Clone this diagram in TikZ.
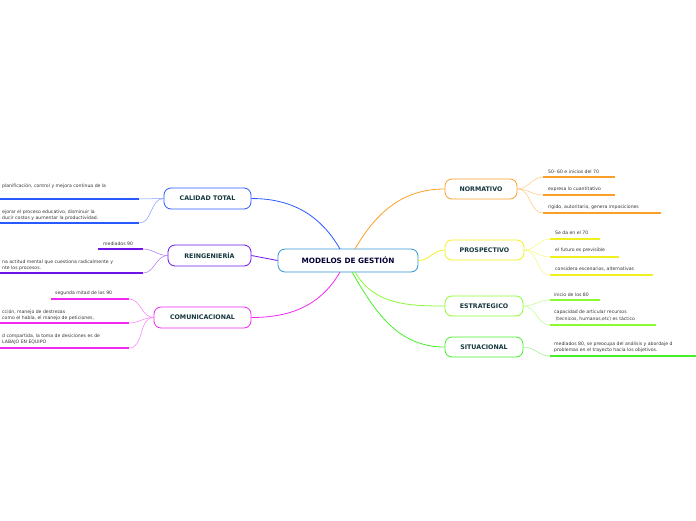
\documentclass[tikz,border=0pt]{standalone}
\usepackage{fontspec}
\setmainfont{DejaVu Sans}
\begin{document}
\begin{tikzpicture}[x=1pt,y=-1pt,
 box/.style={draw=#1,line width=0.8pt,rounded corners=7pt,fill=white,font=\fontsize{6.3}{7}\selectfont\bfseries,text=tealdark,inner sep=0pt},
 lt/.style={font=\fontsize{4.6}{6.4}\selectfont,text=black!80,align=left,inner sep=0pt},
 ul/.style={draw=#1,line width=1.1pt},
 cn/.style={draw=#1,line width=0.5pt}]
\definecolor{tealdark}{RGB}{20,55,60}
\definecolor{cblue}{RGB}{40,90,255}
\definecolor{cpur}{RGB}{110,20,235}
\definecolor{cmag}{RGB}{240,40,240}
\definecolor{cora}{RGB}{250,160,40}
\definecolor{cyel}{RGB}{240,240,30}
\definecolor{clg}{RGB}{140,250,50}
\definecolor{cgr}{RGB}{70,240,40}
\definecolor{ccen}{RGB}{50,150,210}
\useasboundingbox (0,0) rectangle (696,520);
\node[box=ccen,minimum width=140pt,minimum height=23pt,font=\fontsize{7.3}{8}\selectfont\bfseries,text=black!80!blue] (c) at (348,260.5) {MODELOS DE GESTIÓN};
\node[box=cblue,minimum width=87pt,minimum height=21pt] (ct) at (207.5,198.5) {CALIDAD TOTAL};
\node[box=cpur,minimum width=83pt,minimum height=21pt] (re) at (209.5,255.5) {REINGENIERÍA};
\node[box=cmag,minimum width=97pt,minimum height=21pt] (co) at (202.5,317.5) {COMUNICACIONAL};
\node[box=cora,minimum width=72pt,minimum height=20pt] (no) at (481,189) {NORMATIVO};
\node[box=cyel,minimum width=79pt,minimum height=20pt] (pr) at (484.5,250) {PROSPECTIVO};
\node[box=clg,minimum width=78pt,minimum height=20pt] (es) at (484,306) {ESTRATEGICO};
\node[box=cgr,minimum width=78pt,minimum height=20pt] (si) at (484,347) {SITUACIONAL};
% main connectors
\begin{scope}[on background layer/.style={}]
\draw[cn=cblue,line width=0.8pt] (340,249) to[out=120,in=0] (ct.east);
\draw[cn=cpur,line width=0.8pt] (c.west) -- (re.east);
\draw[cn=cmag,line width=0.8pt] (340,272) to[out=240,in=0] (co.east);
\draw[cn=cora,line width=0.8pt] (355,249) to[out=60,in=180] (no.west);
\draw[cn=cyel,line width=0.8pt] (c.east) to[out=0,in=180] (pr.west);
\draw[cn=clg,line width=0.8pt] (355,272) to[out=-60,in=180] (es.west);
\draw[cn=cgr,line width=0.8pt] (352,272) to[out=-60,in=180] (si.west);
\end{scope}
% left leaves
\coordinate (a1) at (0,199); \coordinate (b1) at (139,199);
\draw[ul=cblue] (a1)--(b1); \node[lt,anchor=south west] at (2,189) {planificación, control y mejora continua de la};
\coordinate (a2) at (0,223); \coordinate (b2) at (139,223);
\draw[ul=cblue] (a2)--(b2); \node[lt,anchor=south west] at (2,221) {ejorar el proceso educativo, disminuir la\\ducir costos y aumentar la productividad.};
\draw[cn=cblue!60] (ct.west) to[out=180,in=0] (b1);
\draw[cn=cblue!60] (ct.west) to[out=180,in=0] (b2);
\coordinate (a3) at (98,249); \coordinate (b3) at (143,249);
\draw[ul=cpur] (a3)--(b3); \node[lt,anchor=south west] at (103,246) {mediados 90};
\coordinate (a4) at (0,273); \coordinate (b4) at (143,273);
\draw[ul=cpur] (a4)--(b4); \node[lt,anchor=south west] at (2,271) {na actitud mental que cuestiona radicalmente y\\nte los procesos.};
\draw[cn=cpur!60] (re.west) to[out=180,in=0] (b3);
\draw[cn=cpur!60] (re.west) to[out=180,in=0] (b4);
\coordinate (a5) at (51,299); \coordinate (b5) at (129,299);
\draw[ul=cmag] (a5)--(b5); \node[lt,anchor=south west] at (55,296) {segunda mitad de los 90};
\coordinate (a6) at (0,323); \coordinate (b6) at (129,323);
\draw[ul=cmag] (a6)--(b6); \node[lt,anchor=south west] at (2,321) {cción, manejo de destrezas\\como el habla, el manejo de peticiones,};
\coordinate (a7) at (0,348); \coordinate (b7) at (129,348);
\draw[ul=cmag] (a7)--(b7); \node[lt,anchor=south west] at (2,345) {d compartida, la toma de desiciones es de\\LABAJO EN EQUIPO};
\draw[cn=cmag!60] (co.west) to[out=180,in=0] (b5);
\draw[cn=cmag!60] (co.west) to[out=180,in=0] (b6);
\draw[cn=cmag!60] (co.west) to[out=180,in=0] (b7);
% right leaves
\coordinate (r1) at (543,177); \draw[ul=cora] (r1)--(615,177); \node[lt,anchor=south west] at (548,174) {50- 60 e inicios del 70};
\coordinate (r2) at (543,195); \draw[ul=cora] (r2)--(615,195); \node[lt,anchor=south west] at (548,192) {expresa lo cuantitativo};
\coordinate (r3) at (543,213); \draw[ul=cora] (r3)--(661,213); \node[lt,anchor=south west] at (548,210) {rigido, autoritario, genera imposiciones};
\foreach \r in {r1,r2,r3} \draw[cn=cora!60] (no.east) to[out=0,in=180] (\r);
\coordinate (p1) at (550,239); \draw[ul=cyel] (p1)--(600,239); \node[lt,anchor=south west] at (555,235) {Se da en el 70};
\coordinate (p2) at (550,257); \draw[ul=cyel] (p2)--(619,257); \node[lt,anchor=south west] at (555,253) {el futuro es previsible};
\coordinate (p3) at (550,275); \draw[ul=cyel] (p3)--(653,275); \node[lt,anchor=south west] at (555,271) {considera escenarios, alternativas};
\foreach \r in {p1,p2,p3} \draw[cn=cyel!60] (pr.east) to[out=0,in=180] (\r);
\coordinate (e1) at (550,300); \draw[ul=clg] (e1)--(600,300); \node[lt,anchor=south west] at (554,297) {inicio de los 80};
\coordinate (e2) at (550,325); \draw[ul=clg] (e2)--(656,325); \node[lt,anchor=south west] at (554,321) {capacidad de articular recursos\\\ (tecnicos, humanos,etc) es táctico};
\foreach \r in {e1,e2} \draw[cn=clg!60] (es.east) to[out=0,in=180] (\r);
\coordinate (s1) at (550,356); \draw[ul=cgr] (s1)--(696,356); \node[lt,anchor=south west] at (554,353) {mediados 80, se preocupa del análisis y abordaje d\\problemas en el trayecto hacia los objetivos.};
\draw[cn=cgr!60] (si.east) to[out=0,in=180] (s1);
\end{tikzpicture}
\end{document}
